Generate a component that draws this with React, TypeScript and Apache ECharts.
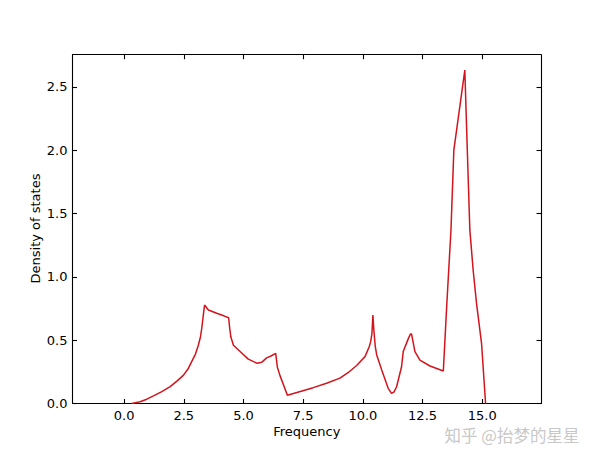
import React, { useEffect, useRef } from 'react';
import * as echarts from 'echarts';

const freq = [
  0.32, 0.67, 0.95, 1.23, 1.58, 1.93, 2.2, 2.48, 2.67, 2.83,
  2.99, 3.11, 3.2, 3.25, 3.32, 3.37, 3.53, 3.88, 4.2, 4.38,
  4.42, 4.47, 4.58, 4.86, 5.2, 5.58, 5.76, 5.97, 6.15, 6.35,
  6.42, 6.53, 6.84, 7.92, 8.48, 9.04, 9.39, 9.74, 10.09, 10.27,
  10.33, 10.38, 10.42, 10.46, 10.52, 10.58, 10.79, 11.06, 11.2, 11.3,
  11.41, 11.62, 11.69, 11.9, 11.99, 12.04, 12.18, 12.39, 12.81, 13.37,
  13.52, 13.69, 13.81, 14.27, 14.34, 14.48, 14.62, 14.76, 14.97, 15.14,
];
const dos = [
  0.0, 0.014, 0.034, 0.06, 0.094, 0.133, 0.175, 0.222, 0.27, 0.33,
  0.39, 0.46, 0.527, 0.59, 0.7, 0.777, 0.738, 0.712, 0.69, 0.677,
  0.6, 0.527, 0.46, 0.41, 0.35, 0.317, 0.325, 0.36, 0.375, 0.396,
  0.286, 0.22, 0.065, 0.125, 0.16, 0.2, 0.245, 0.3, 0.37, 0.45,
  0.49, 0.554, 0.698, 0.58, 0.448, 0.383, 0.264, 0.12, 0.08, 0.09,
  0.13, 0.29, 0.41, 0.51, 0.548, 0.548, 0.41, 0.343, 0.296, 0.256,
  0.8, 1.37, 2.0, 2.632, 2.2, 1.37, 1.05, 0.79, 0.475, 0.0,
];

const xTicks = [0, 2.5, 5, 7.5, 10, 12.5, 15];
const yTicks = [0, 0.5, 1, 1.5, 2, 2.5];
const xRange = [-2.16, 17.46];
const yRange = [0, 2.753];

const FONT = 'DejaVu Sans';

export default function App() {
  const ref = useRef<HTMLDivElement>(null);
  useEffect(() => {
    document.body.style.margin = '0';
    const chart = echarts.init(ref.current!, null, { renderer: 'svg' });
    const lineStyle = { color: '#000', width: 1.1 };
    const mkX = (position: 'bottom' | 'top', showLabel: boolean) => ({
      type: 'value',
      position,
      min: xRange[0],
      max: xRange[1],
      splitLine: { show: false },
      axisLine: { show: true, onZero: false, lineStyle },
      axisTick: { show: true, inside: true, length: 4.5, customValues: xTicks, lineStyle },
      axisLabel: {
        show: showLabel,
        customValues: xTicks,
        margin: 5,
        fontSize: 13,
        lineHeight: 13,
        fontFamily: FONT,
        color: '#000',
        formatter: (v: number) => v.toFixed(1),
      },
    });
    const mkY = (position: 'left' | 'right', showLabel: boolean) => ({
      type: 'value',
      position,
      min: yRange[0],
      max: yRange[1],
      splitLine: { show: false },
      axisLine: { show: true, onZero: false, lineStyle },
      axisTick: { show: true, inside: true, length: 4.5, customValues: yTicks, lineStyle },
      axisLabel: {
        show: showLabel,
        customValues: yTicks,
        margin: 5,
        fontSize: 13,
        fontFamily: FONT,
        color: '#000',
        formatter: (v: number) => v.toFixed(1),
      },
    });
    chart.setOption({
      animation: false,
      backgroundColor: '#fff',
      grid: { left: 72.5, top: 54.7, right: 59, bottom: 50.5, containLabel: false },
      xAxis: [mkX('bottom', true), mkX('top', false)],
      yAxis: [mkY('left', true), mkY('right', false)],
      series: [
        {
          type: 'line',
          xAxisIndex: 0,
          yAxisIndex: 0,
          data: freq.map((f, i) => [f, dos[i]]),
          showSymbol: false,
          symbol: 'none',
          smooth: false,
          clip: true,
          lineStyle: { color: '#d3141c', width: 1.5 },
        },
      ],
      graphic: [
        {
          type: 'text',
          x: 306.8,
          y: 431.5,
          style: {
            text: 'Frequency',
            fontSize: 13,
            fontFamily: FONT,
            fill: '#000',
            align: 'center',
            verticalAlign: 'middle',
          },
        },
        {
          type: 'text',
          x: 35,
          y: 228.5,
          rotation: Math.PI / 2,
          style: {
            text: 'Density of states',
            fontSize: 13,
            fontFamily: FONT,
            fill: '#000',
            align: 'center',
            verticalAlign: 'middle',
          },
        },
        {
          type: 'text',
          x: 512,
          y: 435,
          style: {
            text: '知乎 @抬梦的星星',
            fontSize: 16.5,
            lineHeight: 16,
            fontFamily: 'Noto Sans CJK SC',
            fill: '#c8c8c8',
            align: 'center',
            verticalAlign: 'middle',
          },
        },
      ],
    });
    return () => chart.dispose();
  }, []);
  return (
    <div
      ref={ref}
      style={{ position: 'fixed', left: 0, top: 0, width: 600, height: 454 }}
    />
  );
}
